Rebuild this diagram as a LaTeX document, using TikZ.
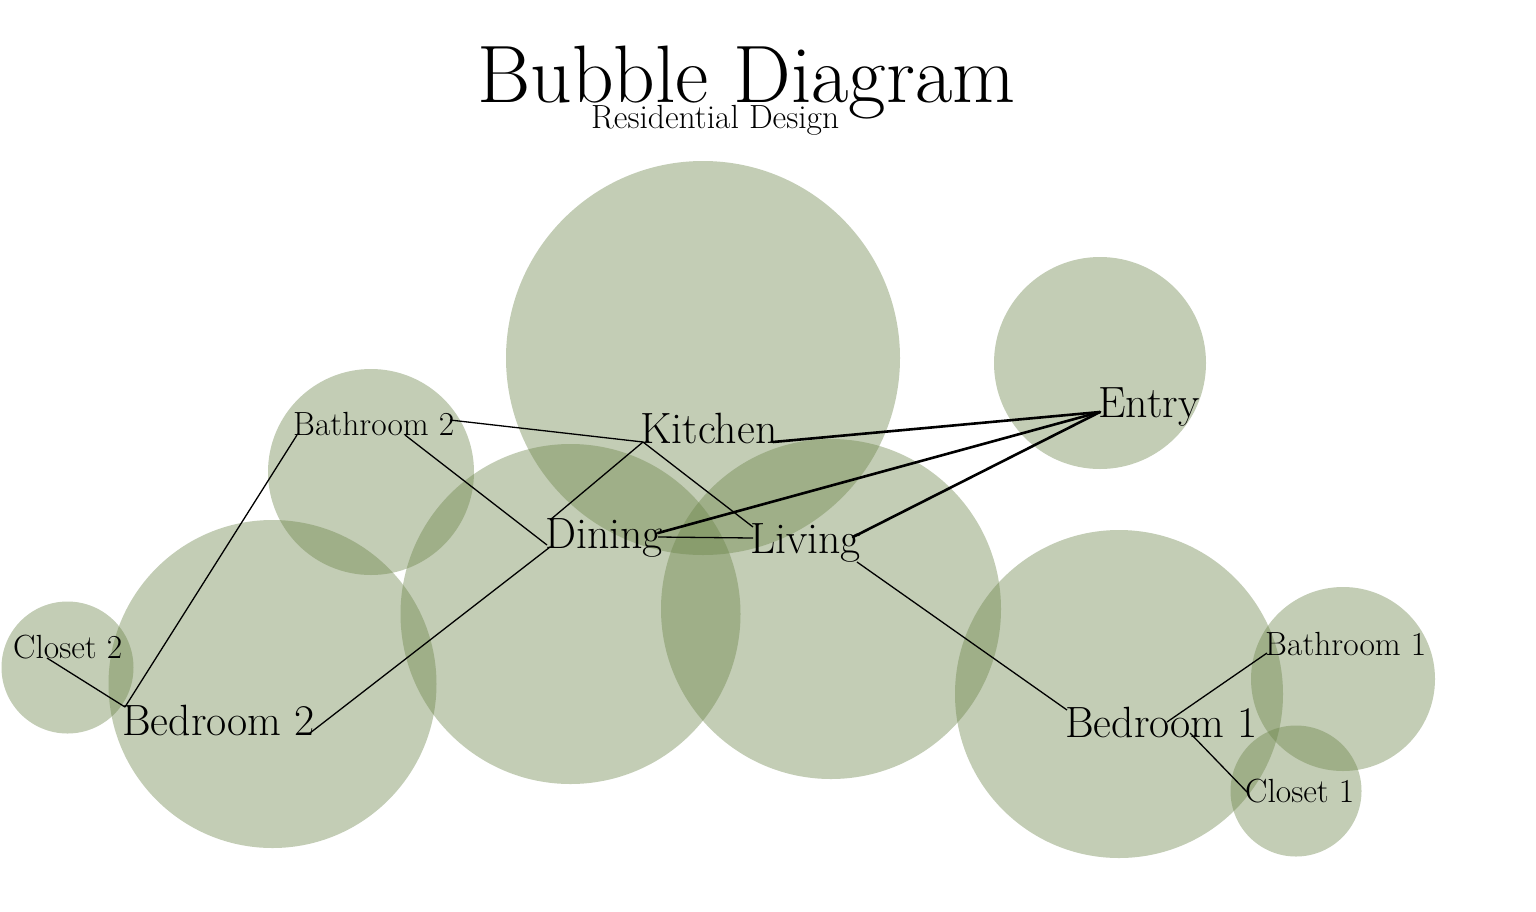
\documentclass[tikz,border=0pt]{standalone}
\usetikzlibrary{calc}
\definecolor{sage}{RGB}{105,130,70}
\tikzset{
  bubble/.style={circle, fill=sage, fill opacity=0.4, draw=none, inner sep=0pt},
  biglabel/.style={anchor=base west, inner sep=0pt, font=\fontsize{43.8}{44}\selectfont},
  smalllabel/.style={anchor=base west, inner sep=0pt, font=\fontsize{33.5}{34}\selectfont},
  thinlink/.style={line width=1.3pt, draw=black},
  thicklink/.style={line width=2.6pt, draw=black, line cap=round},
}
\begin{document}
\begin{tikzpicture}[x=1pt,y=-1pt]
\useasboundingbox[fill=white] (0,0) rectangle (1536,911);
% bubbles
\node[bubble, minimum size=394pt] (bKit) at (703,358) {};
\node[bubble, minimum size=212pt] (bEnt) at (1100,363) {};
\node[bubble, minimum size=206pt] (bBath2) at (371,472) {};
\node[bubble, minimum size=340pt] (bDin) at (570.5,614) {};
\node[bubble, minimum size=340pt] (bLiv) at (831,609) {};
\node[bubble, minimum size=328pt] (bBed2) at (272.5,684) {};
\node[bubble, minimum size=132pt] (bClo2) at (67.5,667.5) {};
\node[bubble, minimum size=328pt] (bBed1) at (1119,694) {};
\node[bubble, minimum size=184pt] (bBath1) at (1343,679) {};
\node[bubble, minimum size=131pt] (bClo1) at (1296,791) {};
% title
\node[anchor=base west, inner sep=0pt, font=\fontsize{81.5}{82}\selectfont] (title) at (477,102) {Bubble Diagram};
\node[anchor=base west, inner sep=0pt, font=\fontsize{33.5}{34}\selectfont] (subtitle) at (591,128) {Residential Design};
% labels
\node[biglabel] (kit) at (640,443) {Kitchen};
\node[biglabel] (din) at (545,548) {Dining};
\node[biglabel] (liv) at (750,553) {Living};
\node[biglabel] (ent) at (1098,417) {Entry};
\node[biglabel] (bed2) at (122,735) {Bedroom 2};
\node[biglabel] (bed1) at (1065,737) {Bedroom 1};
\node[smalllabel] (bath2) at (293,435) {Bathroom 2};
\node[smalllabel] (clo2) at (13,658) {Closet 2};
\node[smalllabel] (bath1) at (1265,655) {Bathroom 1};
\node[smalllabel] (clo1) at (1245,802) {Closet 1};
% connectors
\draw[thinlink] ([shift={(157,-15)}]bath2.base west) -- ([shift={(3,-1)}]kit.base west);
\draw[thinlink] ([shift={(112,0)}]bath2.base west) -- ([shift={(2,-3)}]din.base west);
\draw[thinlink] ([shift={(4,0)}]bath2.base west) -- ([shift={(3,-28)}]bed2.base west);
\draw[thinlink] ([shift={(34,0)}]clo2.base west) -- ([shift={(3,-28)}]bed2.base west);
\draw[thinlink] ([shift={(188,-2)}]bed2.base west) -- ([shift={(5,-1)}]din.base west);
\draw[thinlink] ([shift={(5,-28)}]din.base west) -- ([shift={(3,-1)}]kit.base west);
\draw[thinlink] ([shift={(3,-1)}]kit.base west) -- ([shift={(3,-26)}]liv.base west);
\draw[thicklink] ([shift={(133,-1)}]kit.base west) -- ([shift={(2,-5)}]ent.base west);
\draw[thicklink] ([shift={(113,-15)}]din.base west) -- ([shift={(2,-5)}]ent.base west);
\draw[thinlink] ([shift={(113,-11)}]din.base west) -- ([shift={(3,-15)}]liv.base west);
\draw[thicklink] ([shift={(103,-16)}]liv.base west) -- ([shift={(2,-5)}]ent.base west);
\draw[thinlink] ([shift={(107,9)}]liv.base west) -- ([shift={(2,-27)}]bed1.base west);
\draw[thinlink] ([shift={(102,-15)}]bed1.base west) -- ([shift={(2,-2)}]bath1.base west);
\draw[thinlink] ([shift={(125,-4)}]bed1.base west) -- ([shift={(2,-10)}]clo1.base west);
\end{tikzpicture}
\end{document}
